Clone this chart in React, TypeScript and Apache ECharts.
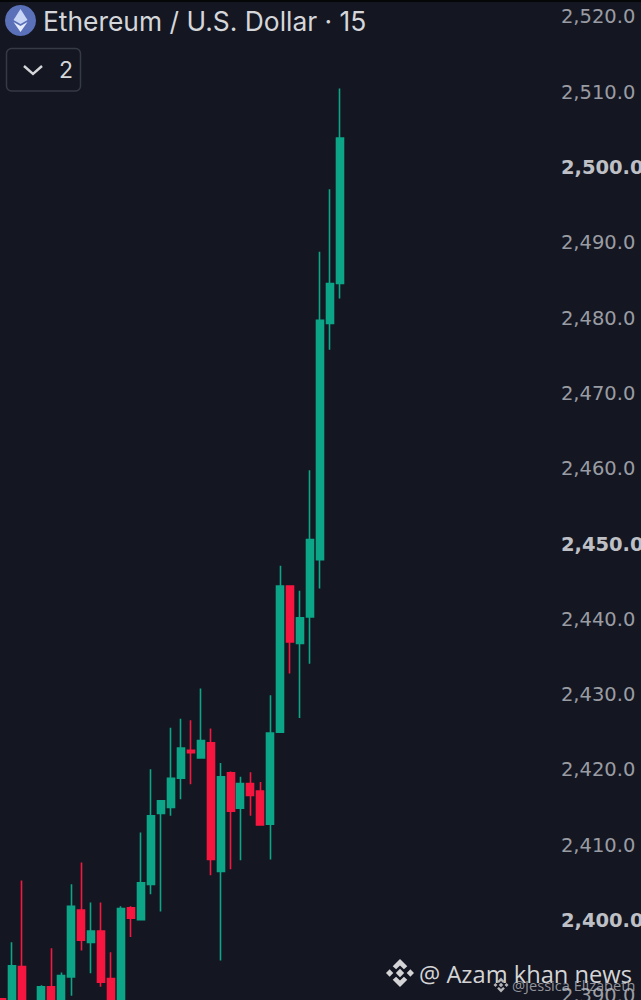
import React, { useEffect, useRef } from "react";
import * as echarts from "echarts";

const title = "Ethereum / U.S. Dollar · 15";
const watermark = "@ Azam khan news";
const watermarkSmall = "@Jessica Elizabeth";
const boldTicks = [2400, 2450, 2500];

const opens = [2389.6, 2386.0, 2393.9, 2388.0, 2386.0, 2391.2, 2386.0, 2392.5, 2401.4, 2397.1, 2398.6, 2392.3, 2386.0, 2401.7, 2400.1, 2404.8, 2414.2, 2415.0, 2418.9, 2422.6, 2421.6, 2423.6, 2406.5, 2419.6, 2414.9, 2418.2, 2417.2, 2412.8, 2425.0, 2444.4, 2436.8, 2440.3, 2447.9, 2479.3, 2484.6];
const closes = [2385.0, 2394.0, 2386.0, 2385.0, 2391.2, 2386.0, 2392.7, 2401.9, 2397.4, 2398.6, 2391.8, 2386.0, 2401.6, 2400.3, 2405.0, 2413.9, 2415.9, 2418.9, 2422.9, 2422.3, 2423.9, 2408.1, 2419.1, 2414.5, 2418.2, 2416.6, 2412.7, 2424.9, 2444.4, 2437.0, 2440.2, 2450.6, 2479.7, 2484.6, 2503.9];
const lows = [2384.0, 2384.0, 2384.0, 2384.0, 2384.0, 2384.0, 2384.0, 2390.0, 2396.0, 2393.0, 2391.2, 2384.0, 2384.0, 2397.8, 2400.1, 2403.5, 2401.2, 2413.9, 2416.1, 2418.1, 2421.6, 2406.0, 2394.7, 2406.8, 2408.0, 2413.9, 2412.7, 2408.1, 2425.0, 2432.8, 2426.9, 2434.1, 2444.1, 2475.8, 2482.6];
const highs = [2389.7, 2397.1, 2405.3, 2388.5, 2391.4, 2396.3, 2393.1, 2404.8, 2407.7, 2402.4, 2402.4, 2395.8, 2401.9, 2401.9, 2411.7, 2420.1, 2415.9, 2425.6, 2426.8, 2426.6, 2430.8, 2425.5, 2420.9, 2419.8, 2419.1, 2419.7, 2418.4, 2429.9, 2447.1, 2444.4, 2443.8, 2459.8, 2488.8, 2497.1, 2510.5];
const categories = Array.from({ length: 56 }, (_, i) => String(i));

const GREEN = "#0ca587";
const RED = "#f7163f";

function chevrons(cx: number, cy: number, s: number, fill: string) {
  const P = (pts: number[][]) => ({
    type: "polygon",
    shape: { points: pts.map(([x, y]) => [cx + x * s, cy + y * s]) },
    style: { fill },
    z: 20,
  });
  return [
    P([[0, -0.3], [0.3, 0], [0, 0.3], [-0.3, 0]]),
    P([[0, -1], [0.52, -0.48], [0.28, -0.26], [0, -0.54], [-0.28, -0.26], [-0.52, -0.48]]),
    P([[0, 1], [0.52, 0.48], [0.28, 0.26], [0, 0.54], [-0.28, 0.26], [-0.52, 0.48]]),
    P([[-1, 0], [-0.74, -0.26], [-0.48, 0], [-0.74, 0.26]]),
    P([[1, 0], [0.74, -0.26], [0.48, 0], [0.74, 0.26]]),
  ];
}

export default function App() {
  const ref = useRef<HTMLDivElement>(null);
  useEffect(() => {
    document.body.style.margin = "0";
    const chart = echarts.init(ref.current!, null, { renderer: "svg" });
    chart.setOption({
      animation: false,
      backgroundColor: "#141722",
      grid: { left: -3.3, top: -58.4, width: 557.2, height: 1129.5, outerBoundsMode: "none", containLabel: false },
      xAxis: { type: "category", data: categories, show: false },
      yAxis: {
        type: "value",
        position: "right",
        min: 2380,
        max: 2530,
        interval: 10,
        axisLine: { show: false },
        axisTick: { show: false },
        splitLine: { show: false },
        axisLabel: {
          margin: 7,
          align: "left",
          fontFamily: "DejaVu Sans",
          fontSize: 19.5,
          color: "#9a9ca3",
          hideOverlap: false,
          formatter: (v: number) => {
            const s = v.toLocaleString("en-US", { minimumFractionDigits: 1, maximumFractionDigits: 1 });
            return boldTicks.includes(v) ? `{b|${s}}` : s;
          },
          rich: {
            b: { fontFamily: "DejaVu Sans", fontSize: 19.5, fontWeight: "bold", color: "#bfc0c6" },
          },
        },
      },
      series: [
        {
          type: "candlestick",
          barWidth: 7.5,
          data: opens.map((o, i) => [o, closes[i], lows[i], highs[i]]),
          itemStyle: {
            color: GREEN,
            color0: RED,
            borderColor: GREEN,
            borderColor0: RED,
            borderWidth: 1.6,
          },
        },
      ],
      graphic: [
        { type: "rect", shape: { x: 0, y: 0, width: 641, height: 2 }, style: { fill: "#050608" }, z: 20 },
        { type: "circle", shape: { cx: 20.5, cy: 20.5, r: 15.5 }, style: { fill: "#5a70b8" }, z: 20 },
        { type: "polygon", shape: { points: [[20.5, 9], [27.5, 20], [20.5, 24], [13.5, 20]] }, style: { fill: "#c9d5f5" }, z: 21 },
        { type: "polygon", shape: { points: [[13.5, 22], [20.5, 26], [27.5, 22], [20.5, 32]] }, style: { fill: "#e6ebfb" }, z: 21 },
        {
          type: "text", x: 43, y: 21,
          style: { text: title, fontFamily: "Inter", fontSize: 26.4, fill: "#d5d6da", verticalAlign: "middle" },
          z: 20,
        },
        {
          type: "rect", shape: { x: 6.5, y: 48.5, width: 74, height: 42.5, r: 5 },
          style: { fill: "none", stroke: "#363a45", lineWidth: 1.5 }, z: 20,
        },
        {
          type: "polyline", shape: { points: [[24, 66], [33, 74], [42, 66]] },
          style: { fill: "none", stroke: "#d5d6da", lineWidth: 2.4 }, z: 20,
        },
        {
          type: "text", x: 59, y: 70,
          style: { text: "2", fontFamily: "Inter", fontSize: 23, fill: "#d5d6da", verticalAlign: "middle" },
          z: 20,
        },
        ...chevrons(400, 973, 14, "#d4d4d6"),
        {
          type: "text", x: 419, y: 974,
          style: { text: watermark, fontFamily: "Open Sans", fontSize: 23.7, fill: "#d4d4d6", verticalAlign: "middle" },
          z: 20,
        },
        ...chevrons(501, 985, 7.5, "#b5b5b8"),
        {
          type: "text", x: 512, y: 985,
          style: { text: watermarkSmall, fontFamily: "Open Sans", fontSize: 14.6, fill: "rgba(190,190,194,0.75)", verticalAlign: "middle" },
          z: 20,
        },
      ],
    });
    return () => chart.dispose();
  }, []);
  return <div ref={ref} style={{ width: 641, height: 1000 }} />;
}
